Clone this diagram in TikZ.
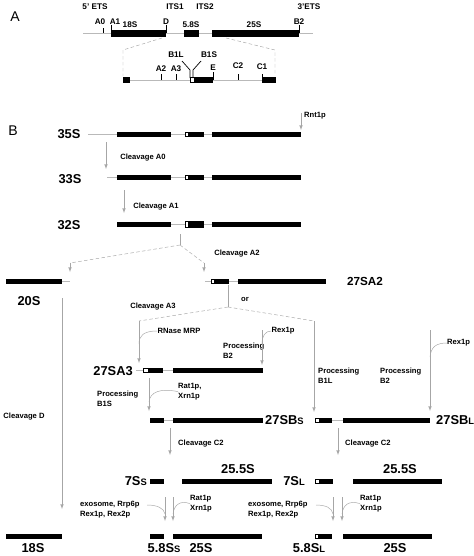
\documentclass[tikz,border=0pt]{standalone}
\usepackage{fontspec}
\setmainfont{Liberation Sans}
\usetikzlibrary{positioning}

% black and open pieces of an rRNA precursor
\newcommand{\bseg}[3]{\fill (#1,#3-2.5) rectangle (#2,#3+2.5);}
\newcommand{\wseg}[3]{\draw[fill=white,line width=0.6pt] (#1,#3-2.1) rectangle (#2,#3+2.1);}
\newcommand{\spacer}[3]{\draw[rna] (#1,#3) -- (#2,#3);}
\newcommand{\sml}[1]{{\fontsize{8}{8}\selectfont #1}}

\begin{document}
\begin{tikzpicture}
        [x=0.03cm, y=-0.03cm,
        rna/.style={gray!55, line width=0.6pt},
        ptr/.style={gray!70, line width=0.4pt},
        fork/.style={gray!70, line width=0.4pt, densely dashed},
        tick/.style={black, line width=0.6pt},
        lbl/.style={font=\fontsize{7}{8}\selectfont\bfseries, inner sep=0pt},
        note/.style={font=\fontsize{6.5}{7.5}\selectfont\bfseries, inner sep=0pt, align=left},
        big/.style={font=\fontsize{11}{12}\selectfont\bfseries, inner sep=0pt},
        pan/.style={font=\fontsize{12}{12}\selectfont, inner sep=0pt}]
        \useasboundingbox (0,0) rectangle (474,556);

        %%% panel A
        \node [pan] (pA) at (15,17) {A};
        \node [lbl] (ets5) at (95,7)  {5' ETS};
        \node [lbl] (its1) at (175,7) {ITS1};
        \node [lbl] (its2) at (205,7) {ITS2};
        \node [lbl] (ets3) at (309,7) {3'ETS};

        \spacer{83}{313}{33}
        \fill (111,29.5) rectangle (166,36.5);
        \fill (184,29.5) rectangle (199,36.5);
        \fill (212,29.5) rectangle (299,36.5);
        \draw[tick] (103,28) -- (103,33);
        \draw[tick] (111,25) -- (111,33);
        \draw[tick] (166,25) -- (166,33);
        \draw[tick] (299,25) -- (299,33);
        \node [lbl] (tA0) at (100,21.5) {A0};
        \node [lbl] (tA1) at (115,21.5) {A1};
        \node [lbl] (t18) at (130,25)   {18S};
        \node [lbl] (tD)  at (166,21.5) {D};
        \node [lbl] (t58) at (191,25)   {5.8S};
        \node [lbl] (t25) at (254,25)   {25S};
        \node [lbl] (tB2) at (299,21.5) {B2};

        % zoom into ITS1
        \coordinate (zl1) at (162,38);
        \coordinate (zr1) at (226,38);
        \draw[fork] (zl1) -- (123,50) -- (123,76);
        \draw[fork] (zr1) -- (275,50) -- (275,76);
        \spacer{123}{276}{80}
        \fill (123,77) rectangle (130,83);
        \fill (194,77) rectangle (213,83);
        \draw[fill=white,line width=0.5pt] (190,77.3) rectangle (194,82.7);
        \fill (262,77) rectangle (276,83);
        \draw[tick] (161,74) -- (161,80);
        \draw[tick] (176,74) -- (176,80);
        \draw[tick] (213,72) -- (213,80);
        \draw[tick] (238,74) -- (238,80);
        \draw[tick] (262,74) -- (262,80);
        \draw[tick] (190,78) -- (190,70) -- (182,61);
        \draw[tick] (193,78) -- (193,70) -- (201,61);
        \node [lbl] (tA2) at (161,69) {A2};
        \node [lbl] (tA3) at (176,69) {A3};
        \node [lbl] (tB1L) at (176,55) {B1L};
        \node [lbl] (tB1S) at (209,55) {B1S};
        \node [lbl] (tE)  at (213,68) {E};
        \node [lbl] (tC2) at (238,66) {C2};
        \node [lbl] (tC1) at (262,67) {C1};

        %%% panel B
        \node [pan] (pB) at (13,131) {B};

        % 35S
        \node [big] (s35) at (69,134) {35S};
        \spacer{88}{301}{134}
        \bseg{117}{171}{134} \bseg{188}{204}{134} \bseg{212}{301}{134}
        \wseg{185}{188}{134}
        \coordinate (rnt1) at (301,113);
        \coordinate (rnt2) at (301,130);
        \draw[ptr,-latex] (rnt1) -- (rnt2);
        \node [note, anchor=west] (rnt) at (304,116) {Rnt1p};

        % 33S
        \coordinate (a0a) at (106,142);
        \coordinate (a0b) at (106,169);
        \draw[ptr,-latex] (a0a) -- (a0b);
        \node [note] (cA0) at (143,158) {Cleavage A0};
        \node [big] (s33) at (70,179) {33S};
        \spacer{107}{301}{177}
        \bseg{117}{171}{177} \bseg{188}{204}{177} \bseg{212}{301}{177}
        \wseg{185}{188}{177}

        % 32S
        \coordinate (a1a) at (124,190);
        \coordinate (a1b) at (124,213);
        \draw[ptr,-latex] (a1a) -- (a1b);
        \node [note] (cA1) at (156,207) {Cleavage A1};
        \node [big] (s32) at (69,225) {32S};
        \spacer{171}{212}{224}
        \bseg{117}{171}{224} \bseg{212}{301}{224}
        \fill (188,220.5) rectangle (204,227.5);
        \draw[fill=white,line width=0.6pt] (185,221) rectangle (188,227);

        % cleavage A2
        \coordinate (a2a) at (180,234);
        \coordinate (a2f) at (180,245);
        \coordinate (a2l) at (70,263);
        \coordinate (a2r) at (204,263);
        \draw[ptr] (a2a) -- (a2f);
        \draw[fork] (a2f) -- (a2l);
        \draw[fork] (a2f) -- (a2r);
        \draw[ptr,-latex] (a2l) -- (70,272);
        \draw[ptr,-latex] (a2r) -- (204,272);
        \node [note] (cA2) at (237,254) {Cleavage A2};

        % 20S and 27SA2
        \spacer{62}{70}{281}
        \bseg{6}{62}{281}
        \node [big] (s20) at (29,301) {20S};
        \spacer{205}{238}{281}
        \bseg{214}{229}{281} \bseg{238}{326}{281}
        \wseg{211}{214}{281}
        \node [big, font=\fontsize{10}{12}\selectfont\bfseries] (s27a2) at (365,281) {27SA2};

        % cleavage D
        \coordinate (da) at (62,298);
        \coordinate (db) at (62,509);
        \draw[ptr,-latex] (da) -- (db);
        \node [note] (cD) at (24,417) {Cleavage D};
        \bseg{6}{62}{536}
        \node [big] (s18) at (33,548) {18S};

        % cleavage A3 or B1L
        \coordinate (ora) at (228,285);
        \coordinate (orf) at (228,307);
        \coordinate (a3l) at (139,321);
        \coordinate (a3r) at (314,321);
        \draw[ptr] (ora) -- (orf);
        \node [note] (or) at (245,299) {or};
        \node [note] (cA3) at (153,307) {Cleavage A3};
        \draw[fork] (orf) -- (a3l);
        \draw[fork] (orf) -- (a3r);
        \draw[ptr,-latex] (a3l) -- (139,363);
        \draw[ptr,-latex] (a3r) -- (314,412);

        % 27SA3
        \node [note] (mrp) at (179,331) {RNase MRP};
        \draw[ptr] (mrp.west) .. controls (143,331) and (139,336) .. (139,344);
        \node [note, anchor=north west] (pb2) at (223,343) {Processing\\[1pt]B2};
        \node [note] (rexa) at (283,331) {Rex1p};
        \coordinate (b2a) at (262,330);
        \coordinate (b2b) at (262,365);
        \draw[ptr,-latex] (b2a) -- (b2b);
        \draw[ptr] (rexa.west) .. controls (265,331) and (262,336) .. (262,344);
        \node [big, anchor=east] (s27a3) at (133,371) {27SA3};
        \spacer{136}{173}{370}
        \bseg{148}{163}{370} \bseg{173}{263}{370}
        \wseg{143}{148}{370}

        % 27SBs
        \coordinate (b1sa) at (149,378);
        \coordinate (b1sb) at (149,411);
        \draw[ptr,-latex] (b1sa) -- (b1sb);
        \node [note, anchor=north west] (pb1s) at (97,391) {Processing\\[1pt]B1S};
        \node [note, anchor=north west] (ratA) at (178,383) {Rat1p,\\[1pt]Xrn1p};
        \draw[ptr] (ratA.west) .. controls (160,388) and (150,392) .. (149,402);
        \spacer{164}{173}{420}
        \bseg{150}{164}{420} \bseg{173}{263}{420}
        \node [big, anchor=west] (s27bs) at (265,420) {27SB\sml{S}};

        % 27SBL
        \node [note, anchor=north west] (pb1l) at (318,368) {Processing\\[1pt]B1L};
        \node [note, anchor=north west] (pb2r) at (380,368) {Processing\\[1pt]B2};
        \node [note, anchor=west] (rexb) at (447,343) {Rex1p};
        \coordinate (b2c) at (430,330);
        \coordinate (b2d) at (430,411);
        \draw[ptr,-latex] (b2c) -- (b2d);
        \draw[ptr] (rexb.west) .. controls (436,343) and (431,347) .. (430,357);
        \spacer{332}{343}{420}
        \bseg{319}{332}{420} \bseg{343}{430}{420}
        \wseg{315}{319}{420}
        \node [big, anchor=west] (s27bl) at (436,420) {27SB\sml{L}};

        % cleavage C2
        \coordinate (c2a) at (170,428);
        \coordinate (c2b) at (170,455);
        \draw[ptr,-latex] (c2a) -- (c2b);
        \node [note, anchor=west] (cC2a) at (178,444) {Cleavage C2};
        \coordinate (c2c) at (338,428);
        \coordinate (c2d) at (338,455);
        \draw[ptr,-latex] (c2c) -- (c2d);
        \node [note, anchor=west] (cC2b) at (345,444) {Cleavage C2};

        % 7S and 25.5S
        \node [big, anchor=east] (s7s) at (147,481) {7S\sml{S}};
        \bseg{150}{164}{481} \bseg{182}{272}{481}
        \node [big] (s255a) at (238,469) {25.5S};
        \node [big, anchor=east] (s7l) at (305,481) {7S\sml{L}};
        \bseg{319}{333}{481} \bseg{353}{442}{481}
        \wseg{315}{319}{481}
        \node [big] (s255b) at (400,469) {25.5S};

        % 3' and 5' trimming
        \coordinate (exa) at (165,497);
        \coordinate (exb) at (165,521);
        \coordinate (xra) at (173,497);
        \coordinate (xrb) at (173,521);
        \draw[ptr,-latex] (exa) -- (exb);
        \draw[ptr,-latex] (xra) -- (xrb);
        \node [note, anchor=north west] (exoA) at (80,501) {exosome, Rrp6p\\[1pt]Rex1p, Rex2p};
        \draw[ptr] (147,505) .. controls (157,505) and (164,508) .. (165,514);
        \node [note, anchor=north west] (ratB) at (190,495) {Rat1p\\[1pt]Xrn1p};
        \draw[ptr] (ratB.west) .. controls (180,500) and (174,505) .. (173,514);
        \coordinate (exc) at (333,497);
        \coordinate (exd) at (333,521);
        \coordinate (xrc) at (342,497);
        \coordinate (xrd) at (342,521);
        \draw[ptr,-latex] (exc) -- (exd);
        \draw[ptr,-latex] (xrc) -- (xrd);
        \node [note, anchor=north west] (exoB) at (248,501) {exosome, Rrp6p\\[1pt]Rex1p, Rex2p};
        \draw[ptr] (316,505) .. controls (326,505) and (332,508) .. (333,514);
        \node [note, anchor=north west] (ratC) at (360,495) {Rat1p\\[1pt]Xrn1p};
        \draw[ptr] (ratC.west) .. controls (349,500) and (343,505) .. (342,514);

        % mature rRNAs
        \bseg{150}{164}{536} \bseg{173}{262}{536}
        \node [big] (s58s) at (164,548) {5.8S\sml{S}};
        \node [big] (s25a) at (201,548) {25S};
        \bseg{318}{332}{536} \bseg{343}{432}{536}
        \wseg{315}{318}{536}
        \node [big] (s58l) at (309,548) {5.8S\sml{L}};
        \node [big] (s25b) at (395,548) {25S};

\end{tikzpicture}
\end{document}
